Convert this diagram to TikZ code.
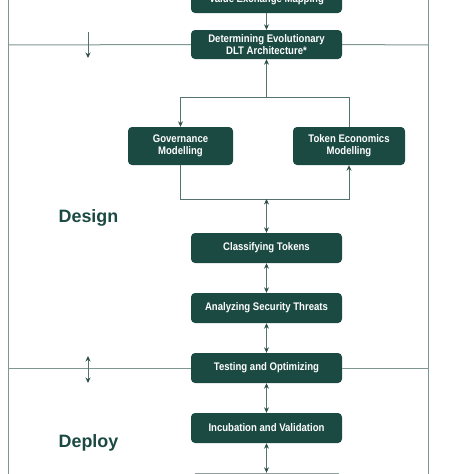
\documentclass[tikz,border=0pt]{standalone}
\usepackage{fontspec}
\setmainfont{Liberation Sans}
\newfontfamily\boxfont[FakeStretch=0.87]{Liberation Sans}
\usetikzlibrary{arrows.meta}
\definecolor{boxg}{HTML}{1B4A43}
\definecolor{lineg}{HTML}{7F9793}
\definecolor{conng}{HTML}{55736E}
\definecolor{arrg}{HTML}{2E4F4A}
\definecolor{grayb}{HTML}{8E9E9A}
\begin{document}
\begin{tikzpicture}[x=1pt,y=-1pt,
  stepbox/.style={fill=boxg, rounded corners=4pt, text=white,
    font=\boxfont\bfseries\fontsize{11}{11.8}\selectfont, align=center,
    minimum width=151pt, minimum height=30pt, inner sep=0pt},
  frameline/.style={draw=lineg, line width=1pt},
  conn/.style={draw=conng, line width=1pt},
  tip/.style={-{Stealth[length=5.5pt,width=5pt,color=arrg]}},
  bitip/.style={{Stealth[length=5.5pt,width=5pt,color=arrg]}-{Stealth[length=5.5pt,width=5pt,color=arrg]}},
  phase/.style={text=boxg, font=\bfseries\fontsize{17.9}{20}\selectfont, inner sep=0pt}
]
\useasboundingbox (0,0) rectangle (474,474);
\clip (0,0) rectangle (474,474);

% nodes
\node[stepbox, minimum height=32pt] (val) at (266.5,-3) {\smash{\raisebox{-5.5pt}{Value Exchange Mapping}}};
\node[stepbox, minimum height=29pt] (det) at (266.5,44.5) {Determining Evolutionary\\DLT Architecture*};
\node[stepbox, minimum width=105pt, minimum height=38pt] (gov) at (180.5,146) {Governance\\Modelling};
\node[stepbox, minimum width=112pt, minimum height=38pt] (tok) at (349,146) {Token Economics\\Modelling};
\node[stepbox] (cls) at (266.5,248) {Classifying Tokens};
\node[stepbox] (ana) at (266.5,308) {Analyzing Security Threats};
\node[stepbox] (tst) at (266.5,368) {Testing and Optimizing};
\node[stepbox] (inc) at (266.5,428) {Incubation and Validation};
\node[fill=grayb, minimum width=144pt, minimum height=30pt, inner sep=0pt] (nxt) at (266.5,488) {};

\node[phase] (design) at (88.5,218) {Design};
\node[phase] (deploy) at (88.5,443) {Deploy};

% frame
\coordinate (fl1) at (8,0); \coordinate (fl2) at (8,474);
\coordinate (fr1) at (428,0); \coordinate (fr2) at (428,474);
\draw[frameline] (fl1) -- (fl2);
\draw[frameline] (fr1) -- (fr2);
\coordinate (h1l) at (8,45); \coordinate (h1r) at (428,45);
\coordinate (h2l) at (8,368); \coordinate (h2r) at (428,368);
\draw[frameline] (h1l) -- (det.west);
\draw[frameline] (det.east) -- (h1r);
\draw[frameline] (h2l) -- (tst.west);
\draw[frameline] (tst.east) -- (h2r);

% left phase arrows
\coordinate (a1s) at (88,32); \coordinate (a1e) at (88,58);
\coordinate (a2s) at (88,356); \coordinate (a2e) at (88,383);
\draw[conn, tip] (a1s) -- (a1e);
\draw[conn, bitip] (a2s) -- (a2e);

% connectors
\coordinate (j1) at (266.5,97);
\coordinate (j2) at (266.5,199);
\draw[conn, tip] (val.south) -- (det.north);
\draw[conn, tip] (j1) -- (det.south);
\draw[conn, tip] (j1) -| (gov.north);
\draw[conn] (j1) -| (tok.north);
\draw[conn] (gov.south) |- (j2);
\draw[conn, tip] (j2) -| (tok.south);
\draw[conn, bitip] (j2) -- (cls.north);
\draw[conn, bitip] (cls.south) -- (ana.north);
\draw[conn, bitip] (ana.south) -- (tst.north);
\draw[conn, bitip] (tst.south) -- (inc.north);
\draw[conn, bitip] (inc.south) -- (nxt.north);
\end{tikzpicture}
\end{document}
